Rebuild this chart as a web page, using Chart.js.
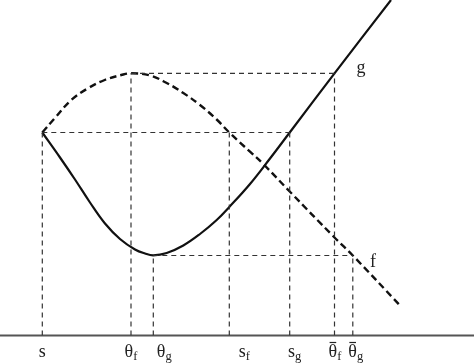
<!DOCTYPE html>
<html>
<head>
<meta charset="utf-8">
<script src="https://cdn.jsdelivr.net/npm/chart.js@4/dist/chart.umd.min.js"></script>
<style>
  body { margin: 0; background: #fff; }
</style>
</head>
<body>
<canvas id="chart" width="474" height="363"></canvas>
<script>
// curve f (dashed) and g (solid), height above the baseline
var fX = [42.3, 54.7, 71.3, 88, 104.7, 121.3, 131, 150, 166.7, 183.3, 200, 216.7, 229.3, 250, 263.3, 289.7, 334.5, 352.8, 401];
var fY = [203, 217.2, 235.5, 247.2, 255.5, 260.5, 262.2, 260, 252.5, 242.5, 230.5, 216, 203, 183.8, 171.5, 144, 98, 80, 29];
var gX = [42.3, 60, 75, 90, 105, 120, 135, 145, 153.3, 166.7, 183.3, 200, 216.7, 229.3, 250, 270, 289.7, 334.5, 391];
var gY = [203, 178, 156, 133, 112, 96.5, 86, 82, 80.2, 82.5, 90, 101.5, 115.5, 128.5, 151.5, 177, 203, 262.2, 335.5];

// marks on the axis
var tickX = [42.3, 131, 153.3, 229.3, 289.7, 334.5, 352.8];
var tickTop = [203, 262.2, 80, 203, 203, 262.2, 80];
var tickMain = ['s', 'θ', 'θ', 's', 's', 'θ', 'θ'];
var tickSub = ['', 'f', 'g', 'f', 'g', 'f', 'g'];
var tickBar = [false, false, false, false, false, true, true];

// horizontal guides join two marks
var hGuides = [[1, 5], [0, 4], [2, 6]];

var curveNames = ['f', 'g'];
var curveNameX = [373, 361];
var curveNameY = [73.5, 267.5];

function pts(xs, ys) {
    var out = [];
    for (var i = 0; i < xs.length; i++) out.push({x: xs[i], y: ys[i]});
    return out;
}

var datasets = [];
var guideStyle = {borderColor: '#333', borderWidth: 1.2, borderDash: [5, 4], pointRadius: 0, showLine: true, fill: false};

for (var i = 0; i < tickX.length; i++) {
    datasets.push(Object.assign({data: [{x: tickX[i], y: 0}, {x: tickX[i], y: tickTop[i]}]}, guideStyle));
}
hGuides.forEach(function (p) {
    datasets.push(Object.assign({data: [{x: tickX[p[0]], y: tickTop[p[0]]}, {x: tickX[p[1]], y: tickTop[p[0]]}]}, guideStyle));
});

datasets.push({
    data: pts(fX, fY),
    borderColor: '#111', borderWidth: 2.4, borderDash: [7, 4],
    pointRadius: 0, showLine: true, tension: 0.4
});
datasets.push({
    data: pts(gX, gY),
    borderColor: '#111', borderWidth: 2.2,
    pointRadius: 0, showLine: true, tension: 0.4
});
// baseline
datasets.push({
    data: [{x: 0, y: 0}, {x: 474, y: 0}],
    borderColor: '#555', borderWidth: 2, pointRadius: 0, showLine: true, clip: false
});

var labelPlugin = {
    id: 'labels',
    afterDraw: function (chart, args, opts) {
        var ctx = chart.ctx;
        var xs = chart.scales.x, ys = chart.scales.y;
        var shift = opts.shift;
        ctx.save();
        ctx.fillStyle = '#222';
        ctx.strokeStyle = '#222';
        ctx.textBaseline = 'alphabetic';
        ctx.textAlign = 'left';
        var base = ys.getPixelForValue(0);
        for (var i = 0; i < tickX.length; i++) {
            ctx.font = '18px "Liberation Serif", serif';
            var w1 = ctx.measureText(tickMain[i]).width;
            ctx.font = '12.5px "Liberation Serif", serif';
            var w2 = tickSub[i] ? ctx.measureText(tickSub[i]).width : 0;
            var cx = xs.getPixelForValue(tickX[i]) + shift[i];
            var left = cx - (w1 + w2) / 2;
            ctx.font = '18px "Liberation Serif", serif';
            ctx.fillText(tickMain[i], left, base + 21);
            if (tickSub[i]) {
                ctx.font = '12.5px "Liberation Serif", serif';
                ctx.fillText(tickSub[i], left + w1, base + 24);
            }
            if (tickBar[i]) {
                ctx.lineWidth = 1.2;
                ctx.beginPath();
                ctx.moveTo(left + 1, base + 7);
                ctx.lineTo(left + w1 - 1, base + 7);
                ctx.stroke();
            }
        }
        ctx.font = '18px "Liberation Serif", serif';
        ctx.textAlign = 'center';
        ctx.textBaseline = 'middle';
        for (var j = 0; j < curveNames.length; j++) {
            ctx.fillText(curveNames[j], xs.getPixelForValue(curveNameX[j]), ys.getPixelForValue(curveNameY[j]));
        }
        ctx.restore();
    }
};

new Chart(document.getElementById('chart'), {
    type: 'scatter',
    data: {datasets: datasets},
    plugins: [labelPlugin],
    options: {
        responsive: false,
        devicePixelRatio: 1,
        animation: false,
        layout: {padding: {bottom: 27.5}},
        scales: {
            x: {type: 'linear', min: 0, max: 474, display: false},
            y: {type: 'linear', min: 0, max: 335.5, display: false}
        },
        plugins: {
            legend: {display: false},
            tooltip: {enabled: false},
            labels: {shift: [0, 0, 11, 15, 5, 0.5, 3]}
        }
    }
});
</script>
</body>
</html>
